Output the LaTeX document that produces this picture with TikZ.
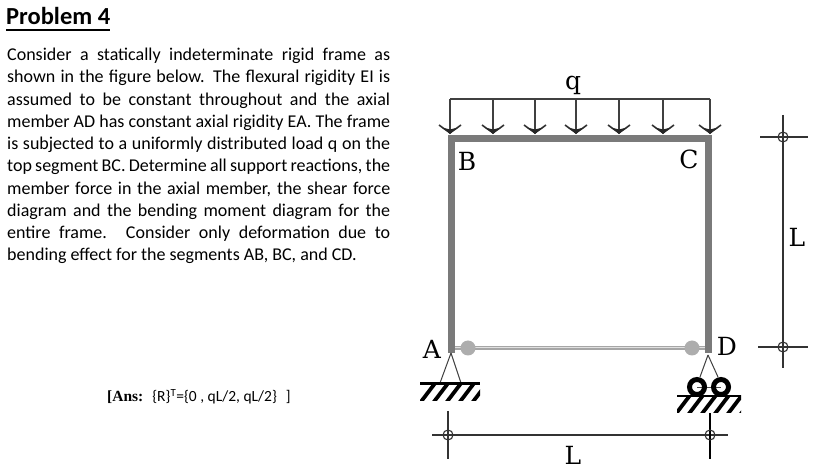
\documentclass[tikz,border=0pt]{standalone}
\usepackage{fontspec}
\setmainfont{Carlito}
\newfontfamily\lblfont{DejaVu Serif}
\newfontfamily\ansfont{Liberation Serif}
\tikzset{
 x=1pt,y=-1pt,
 body/.style={anchor=base west,inner sep=0pt,font=\fontsize{18}{20}\selectfont},
 lbl/.style={inner sep=0pt,font=\lblfont\fontsize{25}{27}\selectfont},
 member/.style={draw=black!52,line width=7pt},
 loadline/.style={draw=black!75,line width=1.3pt},
 dimline/.style={draw=black!80,line width=1.1pt},
 hinge/.style={circle,fill=black!32,minimum size=15pt,inner sep=0pt},
 ground/.style={draw=black,line width=2.6pt},
 hatchline/.style={draw=black,line width=3.8pt},
 strut/.style={draw=black!75,line width=1pt},
 roller/.style={circle,draw=black,line width=5pt,minimum size=15pt,inner sep=0pt,outer sep=0pt}
}
\newcommand{\bodyline}[3]{\node[body] (#1) at (7,#2) {\makebox[383pt][s]{#3}};}
\newcommand{\chevron}[1]{%
 \draw[loadline] (#1,99) -- (#1,133);
 \draw[black!80,line width=1.6pt] (#1-11,125) .. controls (#1-6,129) and (#1-2,131) .. (#1,133) .. controls (#1+2,131) and (#1+6,129) .. (#1+11,125);
 \fill[black!85] (#1-8,127.5) -- (#1,134) -- (#1+8,127.5) -- (#1,129.5) -- cycle;}
\newcommand{\crosshair}[6]{%
 \draw[dimline] (#1,#2) circle[radius=5];
 \draw[dimline] (#3,#2) -- (#4,#2);
 \draw[dimline] (#1,#5) -- (#1,#6);}
\begin{document}
\begin{tikzpicture}
\useasboundingbox (0,0) rectangle (823,470);
\fill[white] (0,0) rectangle (823,470);
% text
\node[anchor=base west,inner sep=0pt,font=\bfseries\fontsize{24.5}{26}\selectfont] (title) at (6,25) {Problem 4};
\draw[black,line width=1.2pt] (6,30) -- (110,30);
\bodyline{l1}{61}{Consider a statically indeterminate rigid frame as}
\bodyline{l2}{83}{shown in the figure below. The flexural rigidity EI is}
\bodyline{l3}{106}{assumed to be constant throughout and the axial}
\bodyline{l4}{128}{member AD has constant axial rigidity EA. The frame}
\bodyline{l5}{150}{is subjected to a uniformly distributed load q on the}
\bodyline{l6}{172}{top segment BC. Determine all support reactions, the}
\bodyline{l7}{195}{member force in the axial member, the shear force}
\bodyline{l8}{217}{diagram and the bending moment diagram for the}
\bodyline{l9}{239}{entire frame. Consider only deformation due to}
\node[body] (l10) at (7,261) {bending effect for the segments AB, BC, and CD.};
\node[anchor=base west,inner sep=0pt,font=\fontsize{15.5}{17}\selectfont] (ans) at (107,402) {{\ansfont\bfseries [Ans:}\hspace{9pt}\{R\}\textsuperscript{T}=\{0 , qL/2, qL/2\}\hspace{9pt}]};
% axial member
\coordinate (A) at (451,348);
\coordinate (Dd) at (708,348);
\draw[draw=black!35,line width=4pt] (A) -- (Dd);
\draw[draw=black!12,line width=1pt] (A) -- (Dd);
\node[hinge] (h1) at (468,348) {};
\node[hinge] (h2) at (692,348) {};
% frame
\coordinate (a0) at (451,353);
\coordinate (b0) at (451,138.5);
\coordinate (c0) at (708.5,138.5);
\coordinate (d0) at (708.5,353);
\draw[member,line join=miter] (a0) -- (b0) -- (c0) -- (d0);
% load
\draw[loadline] (450,99) -- (710,99);
\chevron{450}\chevron{493}\chevron{535}\chevron{576}\chevron{619}\chevron{663}\chevron{710}
% labels
\node[lbl] (q) at (573,85) {q};
\node[lbl] (B) at (467,161) {B};
\node[lbl] (C) at (689,159) {C};
\node[lbl] (Alab) at (432,349) {A};
\node[lbl] (D) at (727,346) {D};
\node[lbl] (L1) at (797,237) {L};
\node[lbl] (L2) at (573,455) {L};
% dimensions
\crosshair{783}{137}{760}{808}{115}{137}
\draw[dimline] (783,137) -- (783,368);
\crosshair{783}{347}{758}{808}{347}{368}
\crosshair{448}{435}{432}{728}{411}{459}
\draw[black,line width=1.2pt] (710,413) -- (710,459);
\draw[dimline] (710,435) circle[radius=5];
% support A
\draw[strut] (451,353) -- (440,383);
\draw[strut] (451,353) -- (461,383);
\draw[ground] (420,383.5) -- (480,383.5);
\begin{scope}
\clip (420,384) rectangle (480,401);
\foreach \i in {0,13,26,39,52}{\draw[hatchline] (420+\i,403) -- (436+\i,382);}
\end{scope}
% support D
\draw[strut] (708,355) -- (700,377);
\draw[strut] (708,355) -- (718,377);
\draw[black!70,line width=1pt] (697,388) -- (721,388);
\node[roller] (r1) at (697,387) {};
\node[roller] (r2) at (721,387) {};
\draw[ground] (677,396) -- (741,396);
\begin{scope}
\clip (677,396) rectangle (741,413);
\foreach \i in {0,13,26,39,52,65}{\draw[hatchline] (675+\i,415) -- (691+\i,394);}
\end{scope}
\end{tikzpicture}
\end{document}
